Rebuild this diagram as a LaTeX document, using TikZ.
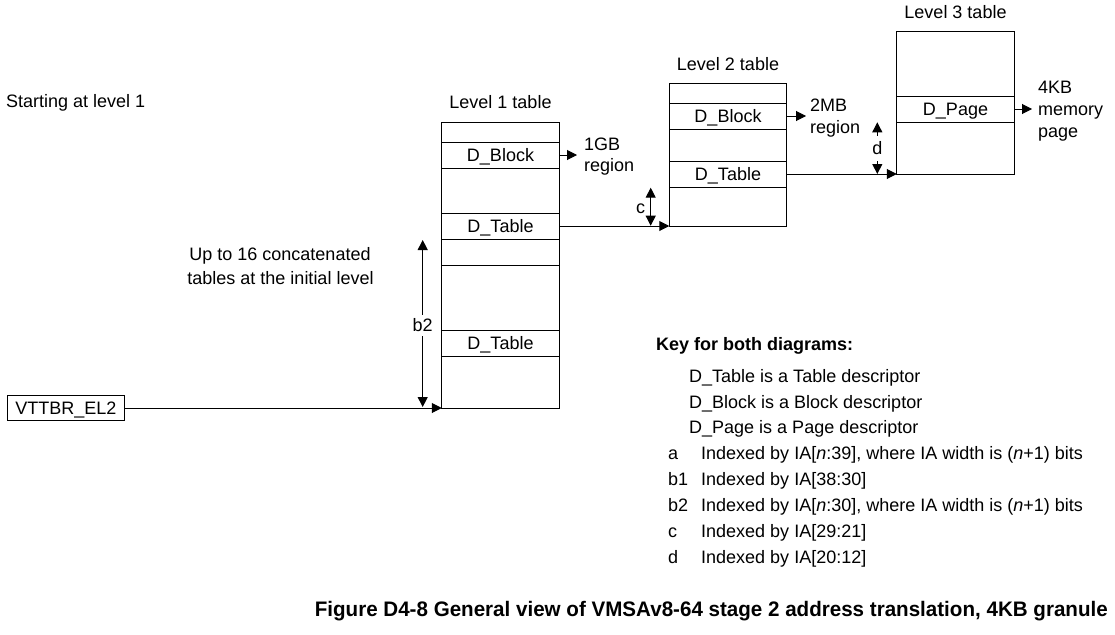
\documentclass[tikz,border=0pt]{standalone}
\usepackage{fontspec}
\setmainfont{Liberation Sans}
\usetikzlibrary{arrows.meta}
\begin{document}
\begin{tikzpicture}[x=1pt,y=-1pt,
  every node/.style={font=\fontsize{18}{22}\selectfont},
  cell/.style={draw, line width=1pt, inner sep=0pt, outer sep=0pt, minimum width=117.5pt, text height=13pt, text depth=0pt},
  lbl/.style={inner sep=0pt, text height=13pt, text depth=0pt},
  arr/.style={line width=1pt, -{Triangle[length=10pt,width=10pt]}},
  dbl/.style={line width=1pt, {Triangle[length=10pt,width=10pt]}-{Triangle[length=10pt,width=10pt]}}
]
\useasboundingbox (0,0) rectangle (1115,634);

% Titles
\node[lbl, anchor=west] (start) at (6,100.7) {Starting at level 1};
\node[lbl] (t1) at (500.5,102) {Level 1 table};
\node[lbl] (t2) at (728,63.7) {Level 2 table};
\node[lbl] (t3) at (955.5,11.7) {Level 3 table};

% Level 1 table
\node[cell, minimum height=20pt] (l1a) at (500.5,132) {};
\node[cell, minimum height=26pt] (l1b) at (500.5,155) {D\_Block};
\node[cell, minimum height=45pt] (l1c) at (500.5,190.5) {};
\node[cell, minimum height=26pt] (l1d) at (500.5,226) {D\_Table};
\node[cell, minimum height=26pt] (l1e) at (500.5,252) {};
\node[cell, minimum height=65pt] (l1f) at (500.5,297.5) {};
\node[cell, minimum height=26pt] (l1g) at (500.5,343) {D\_Table};
\node[cell, minimum height=52pt] (l1h) at (500.5,382) {};

% Level 2 table
\node[cell, minimum height=20pt] (l2a) at (728,93) {};
\node[cell, minimum height=26pt] (l2b) at (728,116) {D\_Block};
\node[cell, minimum height=32pt] (l2c) at (728,145) {};
\node[cell, minimum height=26pt] (l2d) at (728,174) {D\_Table};
\node[cell, minimum height=39pt] (l2e) at (728,206.5) {};

% Level 3 table
\node[cell, minimum height=64pt] (l3a) at (955.5,64) {};
\node[cell, minimum height=26pt] (l3b) at (955.5,109) {D\_Page};
\node[cell, minimum height=52pt] (l3c) at (955.5,148) {};

% Region labels
\node[lbl, anchor=west] (gb1) at (584,144) {1GB};
\node[lbl, anchor=west] (gb2) at (584,165.2) {region};
\node[lbl, anchor=west] (mb1) at (810,104.7) {2MB};
\node[lbl, anchor=west] (mb2) at (810,126.9) {region};
\node[lbl, anchor=west] (kb1) at (1038,87.2) {4KB};
\node[lbl, anchor=west] (kb2) at (1038,108.9) {memory};
\node[lbl, anchor=west] (kb3) at (1038,131) {page};

\coordinate (gbend) at (577,155);
\coordinate (mbend) at (806,116);
\coordinate (kbend) at (1032,109);
\draw[arr] (l1b.east) -- (gbend);
\draw[arr] (l2b.east) -- (mbend);
\draw[arr] (l3b.east) -- (kbend);

% Table links
\draw[arr] (l1d.east) -- (l2e.south west);
\draw[arr] (l2d.east) -- (l3c.south west);

% VTTBR
\node[draw, line width=1pt, inner sep=0pt, outer sep=0pt, minimum width=117pt, minimum height=25pt, text height=13pt, text depth=0pt] (vt) at (65.8,408) {VTTBR\_EL2};
\draw[arr] (vt.east) -- (l1h.south west);

% Concatenated note
\node[lbl] (up1) at (280,253.7) {Up to 16 concatenated};
\node[lbl] (up2) at (280.5,277.5) {tables at the initial level};

% Index arrows
\coordinate (b2top) at (422.7,240);
\coordinate (b2bot) at (422.7,407);
\draw[dbl] (b2top) -- (b2bot);
\node[lbl, fill=white, inner ysep=4pt] (b2) at (422.7,325) {b2};

\coordinate (ctop) at (650.7,187.7);
\coordinate (cbot) at (650.7,225.7);
\draw[dbl] (ctop) -- (cbot);
\node[lbl] (c) at (640.7,206.7) {c};

\coordinate (dtop) at (877.3,122.3);
\coordinate (dbot) at (877.3,174);
\draw[dbl] (dtop) -- (dbot);
\node[lbl, fill=white, inner ysep=6pt] (d) at (877.3,148.3) {d};

% Key
\node[lbl, anchor=west, font=\fontsize{18}{22}\selectfont\bfseries] (key) at (656,343.7) {Key for both diagrams:};
\node[lbl, anchor=west] (k1) at (689,375.8) {D\_Table is a Table descriptor};
\node[lbl, anchor=west] (k2) at (689,401.7) {D\_Block is a Block descriptor};
\node[lbl, anchor=west] (k3) at (689,427.3) {D\_Page is a Page descriptor};
\node[lbl, anchor=west] (ka) at (668,453) {a};
\node[lbl, anchor=west] (kat) at (701,453) {Indexed by IA[\textit{n}:39], where IA width is (\textit{n}+1) bits};
\node[lbl, anchor=west] (kb) at (668,479.2) {b1};
\node[lbl, anchor=west] (kbt) at (701,479.2) {Indexed by IA[38:30]};
\node[lbl, anchor=west] (kc) at (668,505) {b2};
\node[lbl, anchor=west] (kct) at (701,505) {Indexed by IA[\textit{n}:30], where IA width is (\textit{n}+1) bits};
\node[lbl, anchor=west] (kd) at (668,531) {c};
\node[lbl, anchor=west] (kdt) at (701,531) {Indexed by IA[29:21]};
\node[lbl, anchor=west] (ke) at (668,556.7) {d};
\node[lbl, anchor=west] (ket) at (701,556.7) {Indexed by IA[20:12]};

% Caption
\node[inner sep=0pt, text height=15pt, text depth=0pt, anchor=east, font=\fontsize{21}{25}\selectfont\bfseries, xscale=0.98] (cap) at (1108,609) {Figure D4-8 General view of VMSAv8-64 stage 2 address translation, 4KB granule};
\end{tikzpicture}
\end{document}
